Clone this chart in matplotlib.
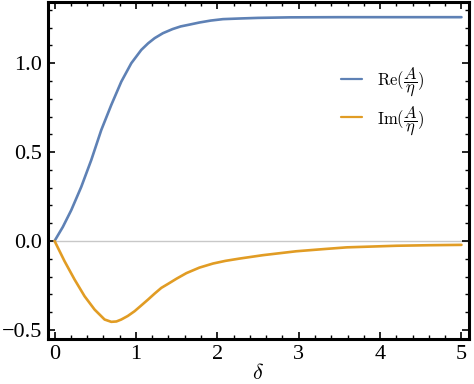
import matplotlib
matplotlib.use("Agg")
import matplotlib.pyplot as plt
from matplotlib.ticker import MultipleLocator

# data
re_x = [0.0, 0.102, 0.205, 0.328, 0.451, 0.574, 0.697, 0.82, 0.943, 1.066, 1.15, 1.23, 1.332, 1.45, 1.55, 1.646, 1.78, 1.92, 2.07, 2.3, 2.5, 2.89, 3.5, 4.0, 4.5, 5.0]
re_y = [0.0, 0.079, 0.173, 0.304, 0.455, 0.624, 0.765, 0.896, 1.0, 1.075, 1.112, 1.141, 1.169, 1.192, 1.207, 1.216, 1.229, 1.240, 1.248, 1.252, 1.255, 1.258, 1.259, 1.259, 1.259, 1.259]

im_x = [0.0, 0.123, 0.246, 0.369, 0.492, 0.615, 0.697, 0.76, 0.82, 0.90, 0.984, 1.06, 1.148, 1.23, 1.312, 1.40, 1.5, 1.62, 1.78, 1.947, 2.1, 2.275, 2.56, 2.97, 3.3, 3.59, 4.2, 4.6, 5.0]
im_y = [0.0, -0.114, -0.217, -0.311, -0.386, -0.442, -0.455, -0.453, -0.442, -0.422, -0.395, -0.365, -0.33, -0.296, -0.264, -0.240, -0.212, -0.181, -0.150, -0.127, -0.112, -0.099, -0.08, -0.058, -0.046, -0.036, -0.027, -0.024, -0.022]

labels = [r'$\mathrm{Re}(\dfrac{A}{\eta})$', r'$\mathrm{Im}(\dfrac{A}{\eta})$']
xlabel = r'$\delta$'

blue = '#5E81B5'
orange = '#E19C24'

plt.rcParams['font.family'] = ['Liberation Serif', 'DejaVu Serif']
plt.rcParams['mathtext.fontset'] = 'cm'

fig = plt.figure(figsize=(4.74, 3.84), dpi=100)
ax = fig.add_axes([0.101, 0.117, 0.888, 0.879])

ax.axhline(0, color='#c8c8c8', lw=1.0, zorder=1)
ax.plot(re_x, re_y, color=blue, lw=1.9, label=labels[0], zorder=3,
        solid_joinstyle='round', solid_capstyle='round')
ax.plot(im_x, im_y, color=orange, lw=1.9, label=labels[1], zorder=3,
        solid_joinstyle='round', solid_capstyle='round')

ax.set_xlim(-0.082, 5.09)
ax.set_ylim(-0.552, 1.347)

ax.xaxis.set_major_locator(MultipleLocator(1))
ax.xaxis.set_minor_locator(MultipleLocator(0.2))
ax.yaxis.set_major_locator(MultipleLocator(0.5))
ax.yaxis.set_minor_locator(MultipleLocator(0.1))
ax.xaxis.set_major_formatter(plt.FuncFormatter(lambda v, p: f'{v:.0f}'))
ax.yaxis.set_major_formatter(plt.FuncFormatter(lambda v, p: '\u22120.5' if v < -0.01 else f'{v:.1f}'))

ax.tick_params(which='both', direction='in', top=True, right=True, labelsize=16, pad=4)
ax.tick_params(which='major', length=5, width=1.2)
ax.tick_params(which='minor', length=3, width=1.0)
for s in ax.spines.values():
    s.set_linewidth(2.2)

ax.set_xlabel(xlabel, fontsize=16, labelpad=0)

leg = ax.legend(loc='upper left', bbox_to_anchor=(0.66, 0.855), frameon=False,
                fontsize=12, handlelength=1.3, handletextpad=0.9, labelspacing=0.35)
for line in leg.get_lines():
    line.set_linewidth(1.6)

fig.savefig('out.png', dpi=100)
